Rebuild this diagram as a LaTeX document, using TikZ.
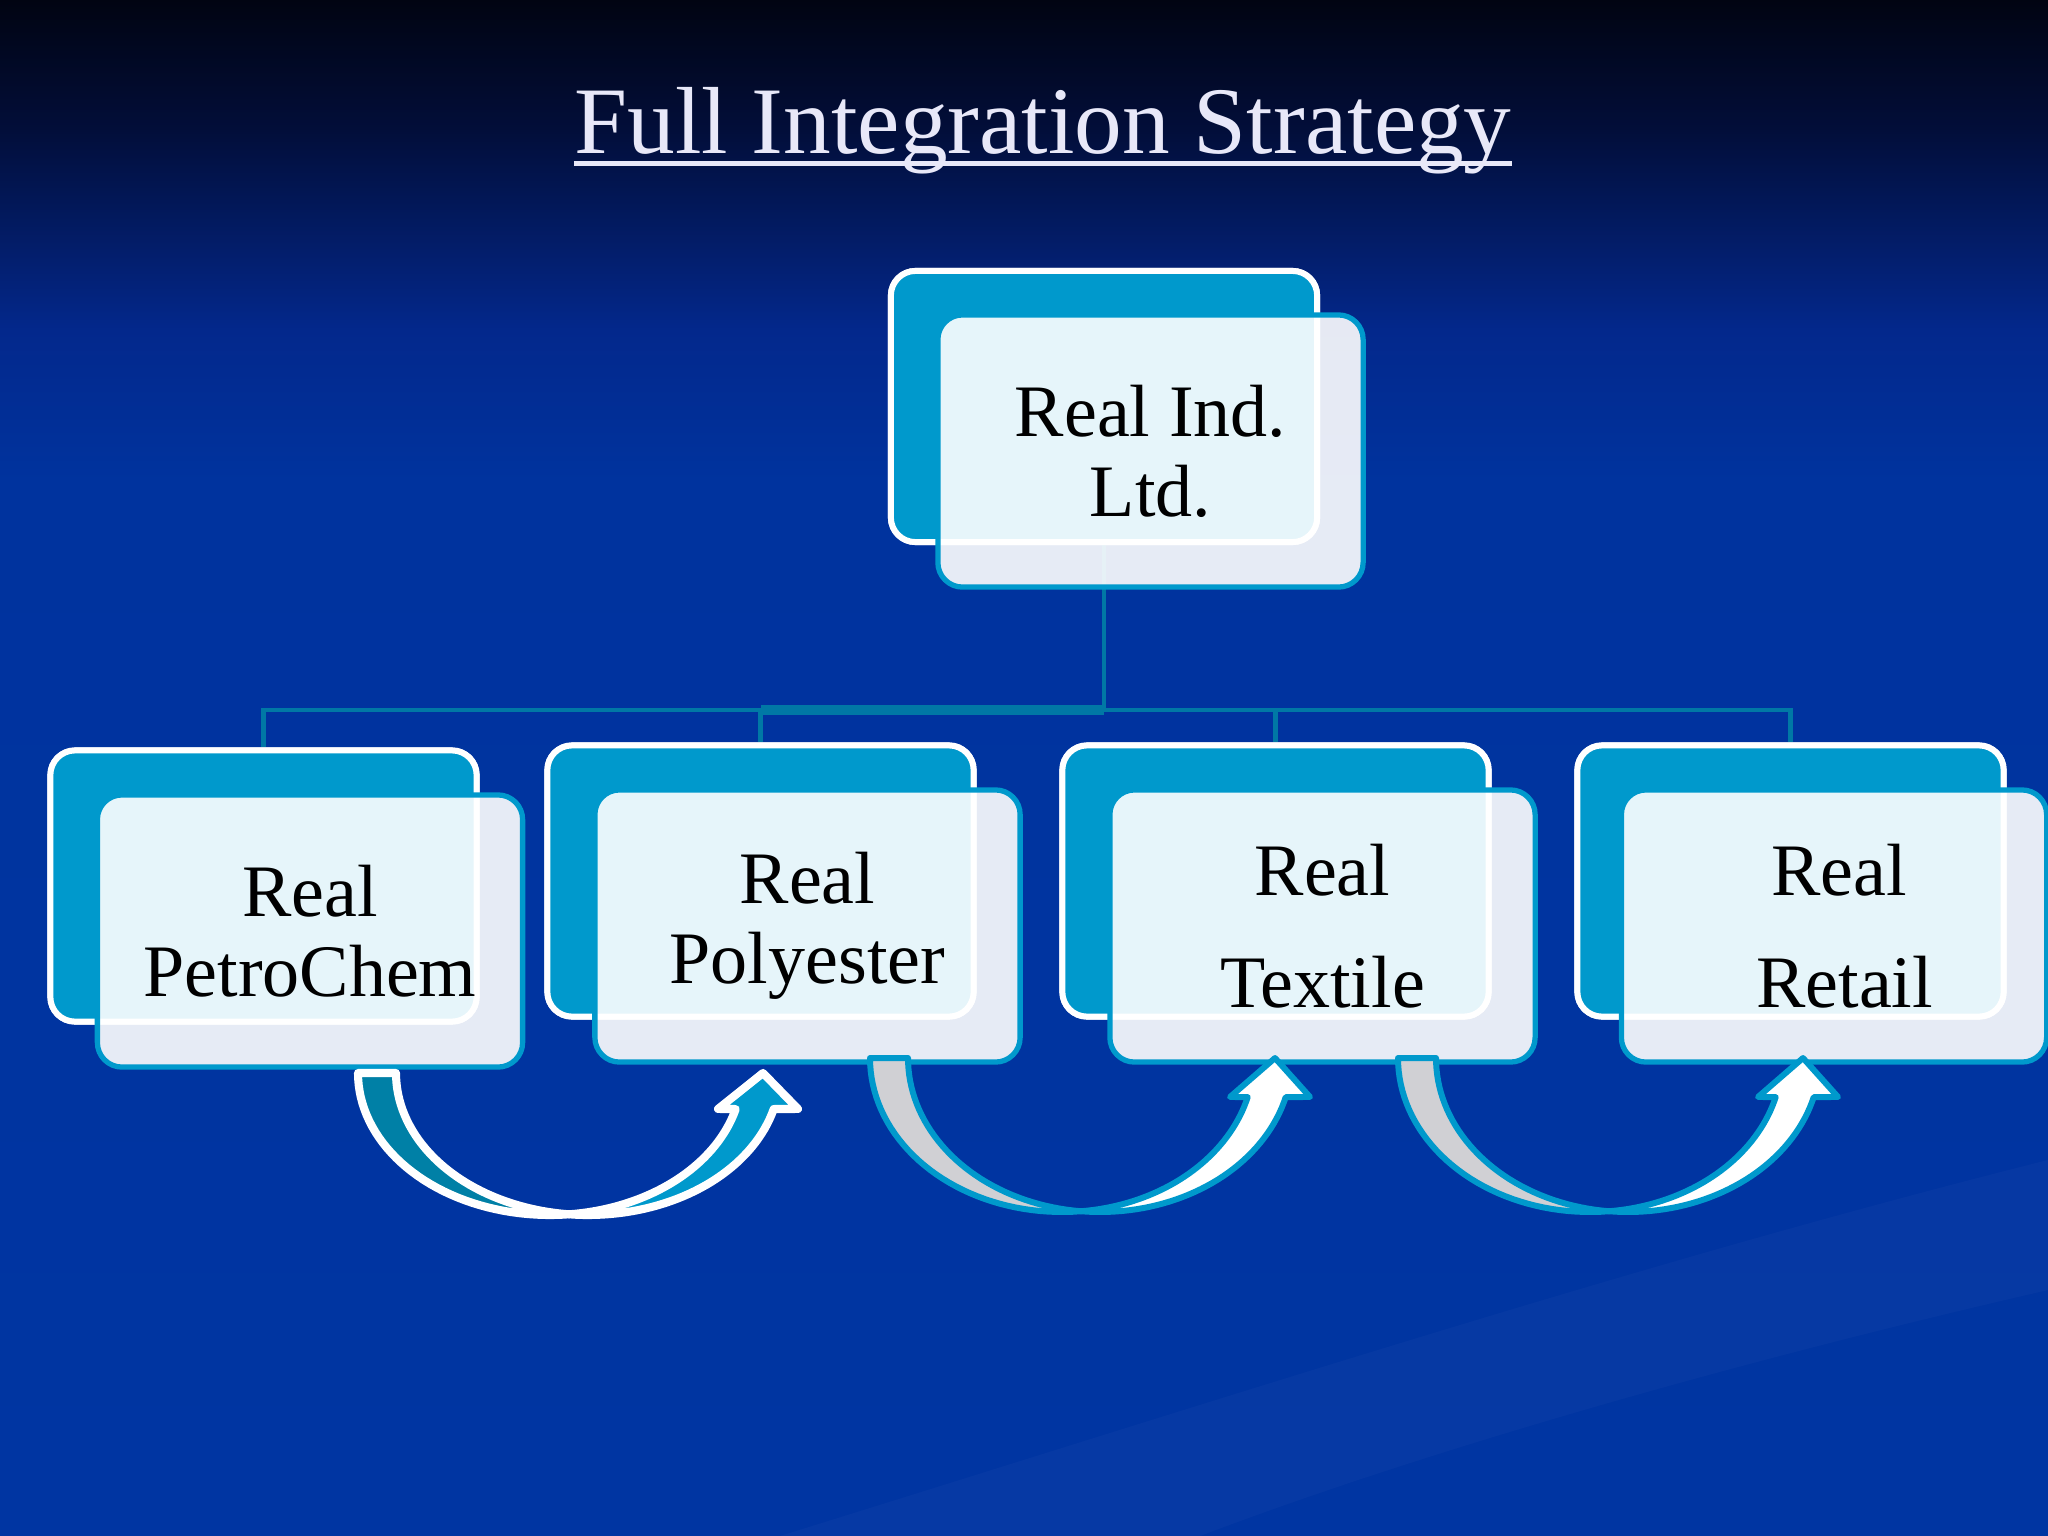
\documentclass[tikz,border=0pt]{standalone}
\usepackage{fontspec}
\setmainfont{Liberation Serif}
\definecolor{bgA}{RGB}{1,4,18}
\definecolor{bgB}{RGB}{2,14,58}
\definecolor{bgC}{RGB}{3,40,140}
\definecolor{bgD}{RGB}{0,51,158}
\definecolor{bgE}{RGB}{0,53,162}
\definecolor{boxblue}{RGB}{0,153,204}
\definecolor{conncol}{RGB}{0,120,165}
\definecolor{darkteal}{RGB}{0,128,166}
\definecolor{paleGray}{RGB}{208,208,212}
\definecolor{titlecol}{RGB}{232,232,248}
\newcommand\boxfont{\fontsize{21.05}{22.76}\selectfont}
\newcommand\titlefont{\fontsize{27.1}{30}\selectfont}
% curved U arrow: #1,#2 origin (top-left of back band), #3 depth, #4 back fill, #5 front fill, #6 outline, #7 outline width
\newcommand\uarrow[7]{%
\begin{scope}[shift={(#1,#2)}, line join=round]
\filldraw[fill=#4, draw=#6, line width=#7]
  plot[domain=180:84.3, samples=40, variable=\t] ({192+192*cos(\t)},{#3*sin(\t)})
  -- plot[domain=95.7:180, samples=40, variable=\t] ({230+192*cos(\t)},{#3*sin(\t)}) -- cycle;
\filldraw[fill=#5, draw=#6, line width=#7]
  plot[domain=95.7:14.7, samples=40, variable=\t] ({230+192*cos(\t)},{#3*sin(\t)})
  -- (440,{0.253*#3}) -- (405,0) -- (360,{0.253*#3})
  -- plot[domain=14.7:84.3, samples=40, variable=\t] ({192+192*cos(\t)},{#3*sin(\t)}) -- cycle;
\end{scope}}
\tikzset{
 backbox/.style={draw=white, line width=1.7pt, fill=boxblue, rounded corners=7pt,
   minimum width=4.26cm, minimum height=2.71cm, inner sep=0pt},
 frontbox/.style={draw=boxblue, line width=1.5pt, fill=white, fill opacity=0.9, text opacity=1,
   rounded corners=7pt, minimum width=4.25cm, minimum height=2.72cm, inner sep=0pt,
   align=center, font=\boxfont, text=black},
 conn/.style={draw=conncol, line width=1.4pt},
}
\begin{document}
\begin{tikzpicture}[x=0.01cm, y=-0.01cm]
\useasboundingbox (0,0) rectangle (2048,1536);
% background
\shade[top color=bgA, bottom color=bgB] (0,0) rectangle (2048,131);
\shade[top color=bgB, bottom color=bgC] (0,130) rectangle (2048,331);
\shade[top color=bgC, bottom color=bgD] (0,330) rectangle (2048,481);
\shade[top color=bgD, bottom color=bgE] (0,480) rectangle (2048,1536);
\fill[white, opacity=0.025] (780,1536) .. controls (1250,1390) and (1650,1260) .. (2048,1160)
  -- (2048,1290) .. controls (1700,1370) and (1400,1460) .. (1200,1536) -- cycle;

% back boxes
\node[backbox] (b0) at (1104,406.5) {};
\node[backbox] (b1) at (263.5,886) {};
\node[backbox] (b2) at (760.5,881) {};
\node[backbox] (b3) at (1275.5,881) {};
\node[backbox] (b4) at (1790.5,881) {};

% connectors
\coordinate (hub) at (1104,710);
\draw[conn] (b0.south) -- (hub);
\draw[conn] (b1.north) |- (hub);
\draw[conn] (b2.north) |- (hub);
\draw[conn] (b3.north) |- (hub);
\draw[conn] (b4.north) |- (hub);
\draw[conn, line width=2.6pt] (hub) -- (hub -| b2.north);

% redraw back boxes over the connector ends
\node[backbox] at (b0) {};
\node[backbox] at (b1) {};
\node[backbox] at (b2) {};
\node[backbox] at (b3) {};
\node[backbox] at (b4) {};

% front boxes
\node[frontbox] (f0) at (1150.5,451) {Real Ind.\\Ltd.};
\node[frontbox] (f1) at (310,931) {Real\\PetroChem};
\node[frontbox] (f2) at (807.5,926) {Real\\Polyester};
\node[frontbox] (f3) at (1322.5,926) {Real\\[9pt]Textile};
\node[frontbox] (f4) at (1834,926) {\hspace*{3pt}Real\\[9pt]\hspace*{6pt}Retail};

% curved arrows
\uarrow{358}{1073}{142}{darkteal}{boxblue}{white}{2.3pt}
\uarrow{870}{1058}{154}{paleGray}{white}{boxblue}{1.7pt}
\uarrow{1398}{1058}{154}{paleGray}{white}{boxblue}{1.7pt}

% title
\node[font=\titlefont, text=titlecol, anchor=base, inner sep=0pt] (title) at (1043,153) {Full Integration Strategy};
\draw[titlecol, line width=1.42pt] ([yshift=-2.85pt]title.base west) -- ([yshift=-2.85pt]title.base east);
\end{tikzpicture}
\end{document}
